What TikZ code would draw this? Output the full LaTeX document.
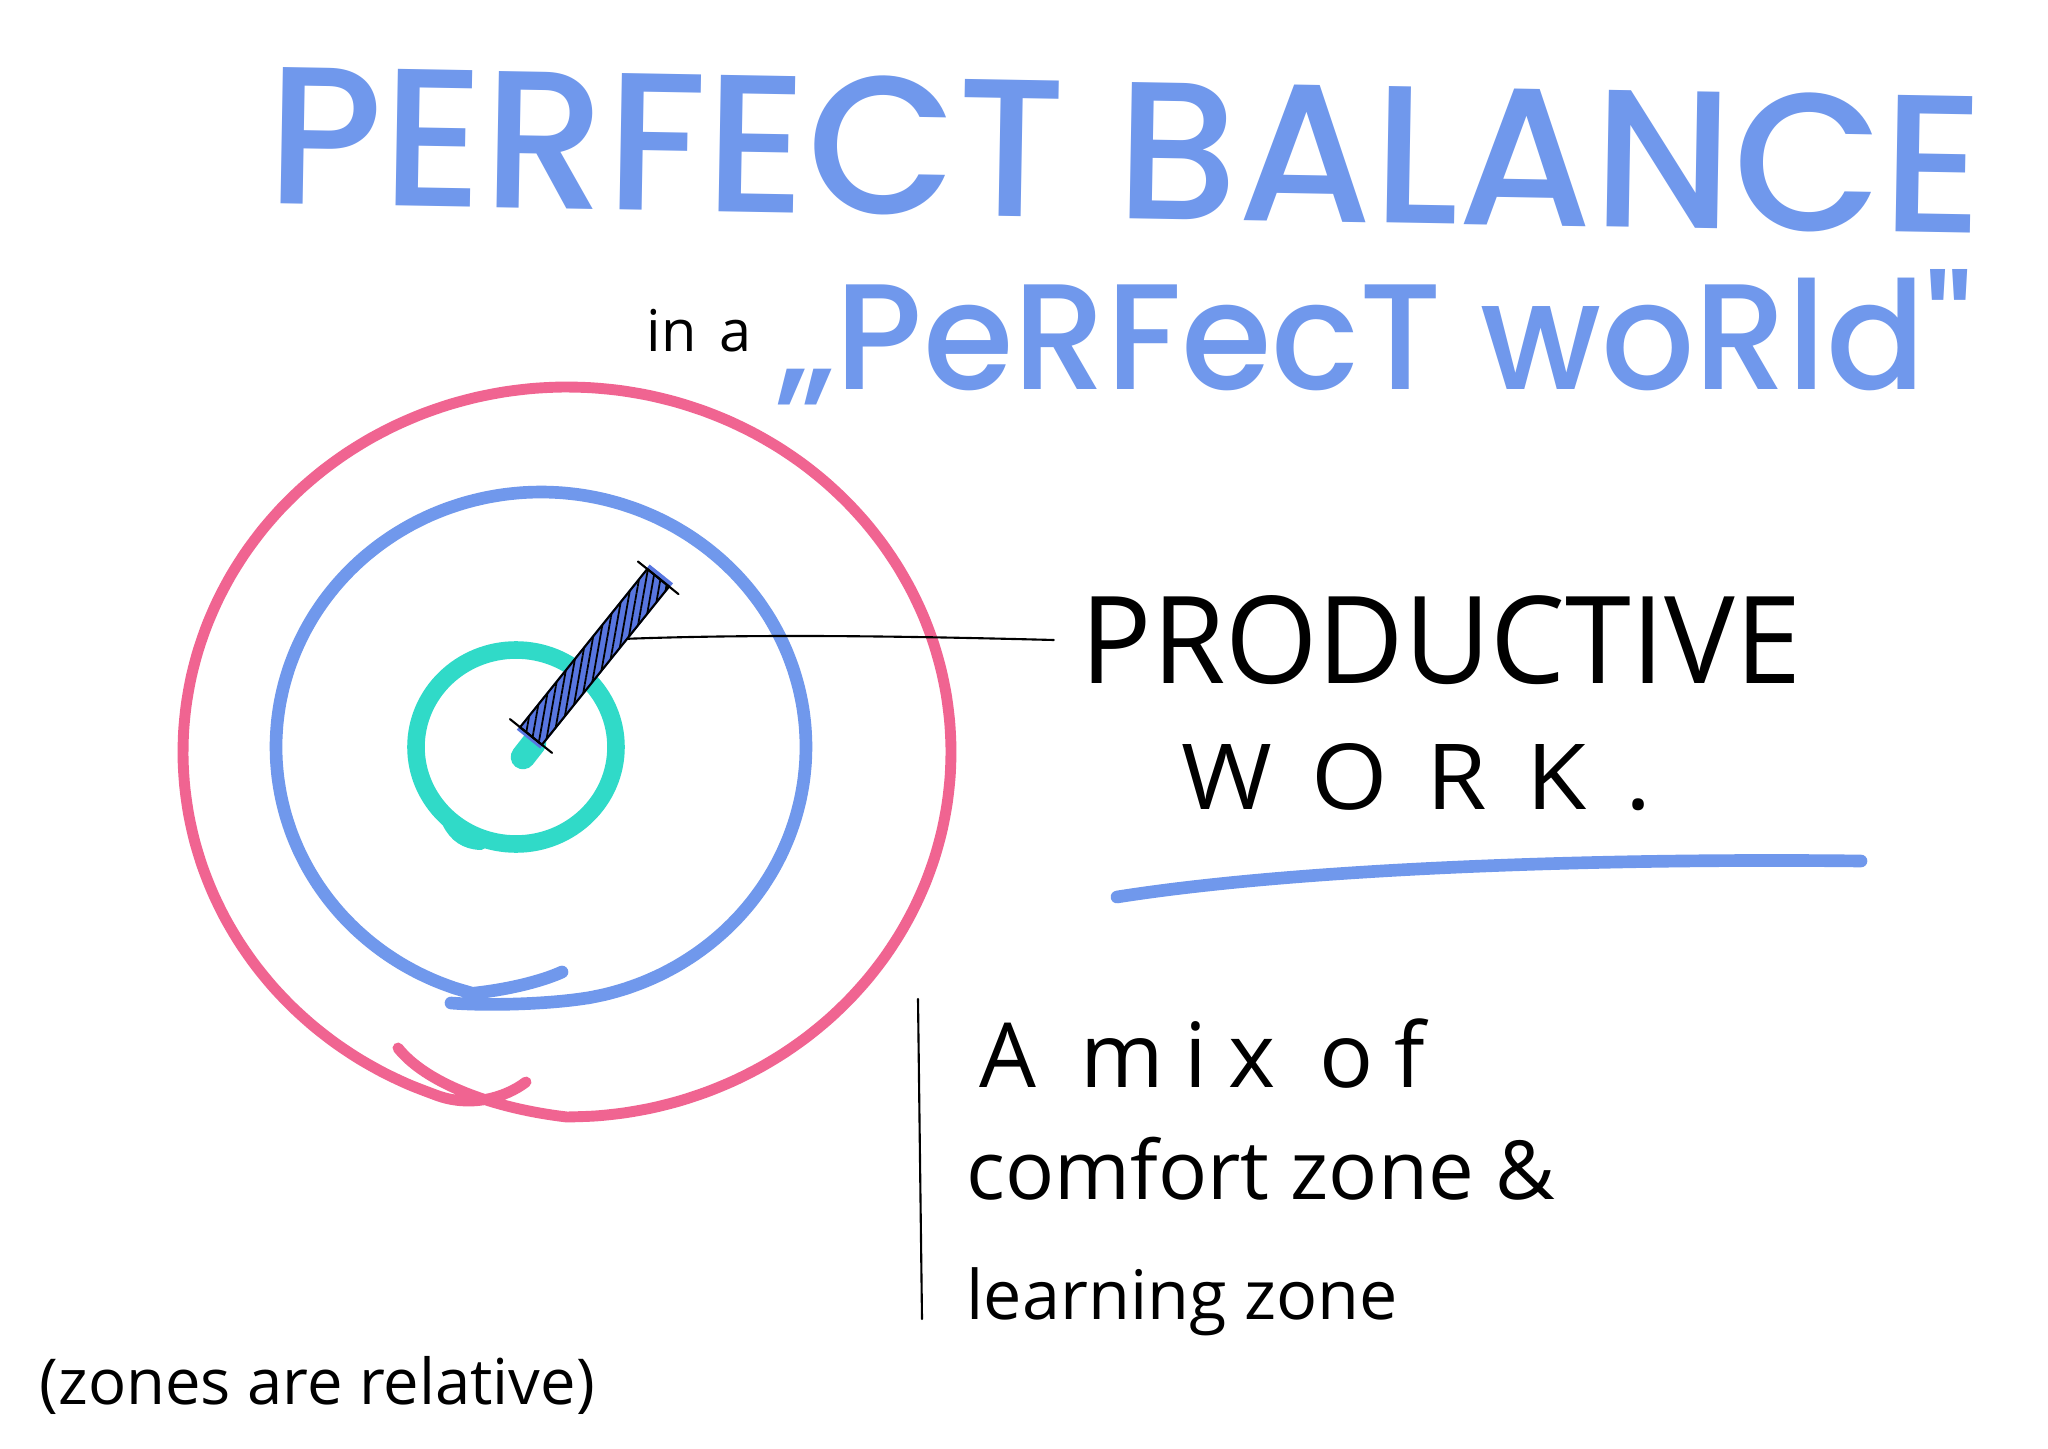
\documentclass[tikz,border=0pt]{standalone}
\usepackage{fontspec}
\usepackage{graphicx}
\usetikzlibrary{patterns.meta}
\newfontfamily\markerfont{Poppins}[UprightFont={* Medium}]
\newfontfamily\penfont{Open Sans}
\newlength\px
\setlength\px{0.01cm}
\definecolor{mblue}{RGB}{112,152,236}
\definecolor{mred}{RGB}{240,100,145}
\definecolor{mteal}{RGB}{48,218,200}
\definecolor{barblue}{RGB}{88,118,224}
\begin{document}
\begin{tikzpicture}[x=0.01cm,y=-0.01cm,
  marktext/.style={inner sep=0pt,text=mblue,font=\markerfont},
  pentext/.style={inner sep=0pt,text=black,font=\penfont},
  pen/.style={draw=black,line width=0.6pt,line cap=round,line join=round},
  redstroke/.style={draw=mred,line width=3.1pt,line cap=round,line join=round},
  bluestroke/.style={draw=mblue,line width=3.6pt,line cap=round,line join=round},
  tealstroke/.style={draw=mteal,line width=5pt,line cap=round}]
\fill[white] (0,0) rectangle (2048,1449);
\useasboundingbox (0,0) rectangle (2048,1449);

% titles
\node[marktext,rotate=-1] (title) at (1126,150) {\resizebox{1717\px}{138\px}{PERFECT BALANCE}};
\node[pentext,anchor=base west] (ina) at (646,352) {\resizebox{105\px}{!}{in\hspace{0.4em}a}};
\node[marktext,anchor=base west] (world) at (777,390) {\resizebox{1195\px}{120\px}{„PeRFecT woRld"}};

% zones
\draw[redstroke] (398,1048) .. controls (425,1082) and (490,1108) .. (567,1117)
  -- plot[domain=0:340,samples=80,smooth] ({567+384*cos(90-\x)},{752+365*sin(90-\x)})
  .. controls (470,1108) and (505,1098) .. (526,1082);
\draw[bluestroke] (451,1003) .. controls (490,1006) and (550,1004) .. (587,998)
  -- plot[domain=0:335,samples=80,smooth] ({541+265*cos(80-\x)},{747+255*sin(80-\x)})
  .. controls (505,990) and (540,982) .. (562,972);
\draw[tealstroke] (516,747) ellipse[x radius=100,y radius=97];
\draw[draw=mteal,line width=4pt,line cap=round] (449,822) .. controls (456,836) and (466,842) .. (480,843);
\draw[draw=mteal,line width=7pt,line cap=round] (523,757) -- (534,743);

% productive work bar
\begin{scope}[shift={(531,736)},rotate=51.2]
  \fill[barblue] (-4,-15) rectangle (208,15);
  \fill[pattern={Lines[angle=80,distance=2pt,line width=0.5pt]},pattern color=black] (0,-14) rectangle (203,14);
  \draw[pen] (0,-14) rectangle (203,14);
  \draw[pen] (0,-27) -- (0,27);
  \draw[pen] (203,-26) -- (203,26);
  \coordinate (lead) at (136,14);
\end{scope}

\node[pentext] (prod) at (1441,640) {\resizebox{721\px}{88\px}{PRODUCTIVE}};
\node[pentext] (work) at (1417,777) {\resizebox{470\px}{66\px}{\addfontfeature{LetterSpace=40}WORK.}};
\draw[pen] (lead) .. controls (760,634) and (900,636) .. ([xshift=-26\px]prod.west);

\coordinate (ul1) at (1117,897);
\coordinate (ul2) at (1861,861);
\draw[bluestroke] (ul1) .. controls (1300,868) and (1600,858) .. (ul2);

% mix text
\coordinate (vtop) at (918,999);
\coordinate (vbot) at (922,1319);
\draw[pen] (vtop) -- (vbot);
\node[pentext,anchor=base west] (mix) at (979,1087) {\resizebox{445\px}{!}{\addfontfeature{LetterSpace=23}A mix of}};
\node[pentext,anchor=base west] (comfort) at (966,1199) {\resizebox{588\px}{!}{comfort zone \&}};
\node[pentext,anchor=base west] (learn) at (966,1319) {\resizebox{431\px}{!}{learning zone}};

\node[pentext,anchor=base west] (rel) at (39,1404) {\resizebox{555\px}{!}{(zones are relative)}};
\end{tikzpicture}
\end{document}
